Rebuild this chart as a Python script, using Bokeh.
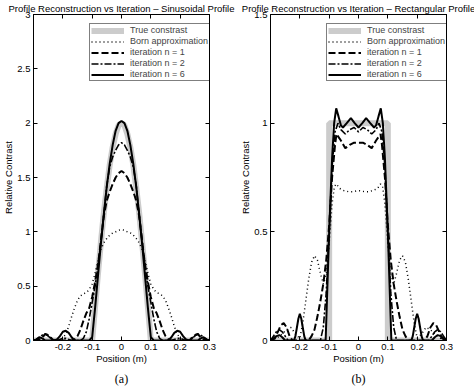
from bokeh.plotting import figure
from bokeh.models import (Range1d, FixedTicker, LinearAxis, Legend, LegendItem,
                          CustomJSTickFormatter, Title)
from bokeh.layouts import row
from bokeh.embed import file_html
from bokeh.resources import INLINE

SANS = "Liberation Sans"
SERIF = "Liberation Serif"

# ---------------- data ----------------
legend_labels = ["True constrast", "Born approximation", "iteration n = 1",
                 "iteration n = 2", "iteration n = 6"]

xticks = [-0.2, -0.1, 0, 0.1, 0.2, 0.3]
xtick_labels = ["-0.2", "-0.1", "0", "0.1", "0.2", "0.3"]
sin_yticks = [0, 0.5, 1, 1.5, 2, 2.5, 3]
sin_ytick_labels = ["0", "0.5", "1", "1.5", "2", "2.5", "3"]
rect_yticks = [0, 0.5, 1, 1.5]
rect_ytick_labels = ["0", "0.5", "1", "1.5"]

# (a) sinusoidal profile
sin_true_x = [-0.3, -0.1, -0.09, -0.08, -0.07, -0.06, -0.05, -0.04, -0.03, -0.02, -0.01, 0.0,
              0.01, 0.02, 0.03, 0.04, 0.05, 0.06, 0.07, 0.08, 0.09, 0.1, 0.3]
sin_true = [0, 0, 0.31, 0.62, 0.91, 1.18, 1.41, 1.62, 1.78, 1.9, 1.98, 2.0,
            1.98, 1.9, 1.78, 1.62, 1.41, 1.18, 0.91, 0.62, 0.31, 0, 0]

sin_x = [-0.30, -0.29, -0.28, -0.27, -0.26, -0.25, -0.24, -0.23, -0.22, -0.21,
         -0.20, -0.19, -0.18, -0.17, -0.16, -0.15, -0.14, -0.13, -0.12, -0.11,
         -0.10, -0.09, -0.08, -0.07, -0.06, -0.05, -0.04, -0.03, -0.02, -0.01,
         0.00,
         0.01, 0.02, 0.03, 0.04, 0.05, 0.06, 0.07, 0.08, 0.09, 0.10,
         0.11, 0.12, 0.13, 0.14, 0.15, 0.16, 0.17, 0.18, 0.19, 0.20,
         0.21, 0.22, 0.23, 0.24, 0.25, 0.26, 0.27, 0.28, 0.29, 0.30]
sin_born = [0.0, 0.0, 0.01, 0.03, 0.05, 0.05, 0.03, 0.01, 0.0, 0.0,
            0.02, 0.06, 0.13, 0.22, 0.3, 0.37, 0.41, 0.43, 0.44, 0.47,
            0.52, 0.62, 0.74, 0.84, 0.9, 0.94, 0.97, 0.99, 1.0, 1.015,
            1.02,
            1.015, 1.0, 0.99, 0.97, 0.94, 0.9, 0.84, 0.74, 0.62, 0.52,
            0.47, 0.44, 0.43, 0.41, 0.37, 0.3, 0.22, 0.13, 0.06, 0.02,
            0.0, 0.0, 0.01, 0.03, 0.05, 0.05, 0.03, 0.01, 0.0, 0.0]
sin_n1 = [0.0, 0.0, 0.01, 0.03, 0.06, 0.05, 0.02, 0.0, 0.0, 0.0,
          0.0, 0.0, 0.0, 0.0, 0.01, 0.04, 0.1, 0.18, 0.25, 0.3,
          0.4, 0.54, 0.7, 0.92, 1.15, 1.29, 1.37, 1.44, 1.5, 1.54,
          1.56,
          1.54, 1.5, 1.44, 1.37, 1.29, 1.15, 0.92, 0.7, 0.54, 0.4,
          0.3, 0.25, 0.18, 0.1, 0.04, 0.01, 0.0, 0.0, 0.0, 0.0,
          0.0, 0.0, 0.0, 0.02, 0.05, 0.06, 0.03, 0.01, 0.0, 0.0]
sin_n2 = [0.0, 0.01, 0.03, 0.05, 0.06, 0.04, 0.02, 0.0, 0.0, 0.01,
          0.02, 0.02, 0.01, 0.0, 0.0, 0.0, 0.0, 0.02, 0.08, 0.2,
          0.35, 0.5, 0.68, 0.92, 1.17, 1.43, 1.6, 1.69, 1.75, 1.8,
          1.82,
          1.8, 1.75, 1.69, 1.6, 1.43, 1.17, 0.92, 0.68, 0.5, 0.35,
          0.2, 0.08, 0.02, 0.0, 0.0, 0.0, 0.0, 0.01, 0.02, 0.02,
          0.01, 0.0, 0.0, 0.02, 0.04, 0.06, 0.05, 0.03, 0.01, 0.0]
sin_n6 = [0.0, 0.01, 0.03, 0.02, 0.0, 0.0, 0.0, 0.0, 0.01, 0.04,
          0.08, 0.09, 0.07, 0.03, 0.0, 0.0, 0.0, 0.0, 0.0, 0.0,
          0.03, 0.3, 0.6, 0.9, 1.17, 1.42, 1.63, 1.8, 1.93, 2.0,
          2.02,
          2.0, 1.93, 1.8, 1.63, 1.42, 1.17, 0.9, 0.6, 0.3, 0.03,
          0.0, 0.0, 0.0, 0.0, 0.0, 0.0, 0.03, 0.07, 0.09, 0.08,
          0.04, 0.01, 0.0, 0.0, 0.0, 0.0, 0.02, 0.03, 0.01, 0.0]

# (b) rectangular profile
rect_true_x = [-0.3, -0.1, -0.1, 0.1, 0.1, 0.3]
rect_true = [0, 0, 1, 1, 0, 0]

rect_born_x = [-0.3, -0.28, -0.26, -0.245, -0.23, -0.215, -0.2,
               -0.19, -0.18, -0.17, -0.16, -0.15, -0.14, -0.13, -0.12, -0.11, -0.1,
               -0.09, -0.082, -0.075, -0.065, -0.05, -0.035, -0.02,
               0.0,
               0.02, 0.035, 0.05, 0.065, 0.075, 0.082, 0.09,
               0.1, 0.11, 0.12, 0.13, 0.14, 0.15, 0.16, 0.17, 0.18, 0.19,
               0.2, 0.215, 0.23, 0.245, 0.26, 0.28, 0.3]
rect_born = [0.0, 0.01, 0.03, 0.05, 0.06, 0.03, 0.01,
             0.08, 0.18, 0.28, 0.36, 0.39, 0.37, 0.31, 0.26, 0.3, 0.45,
             0.63, 0.71, 0.72, 0.7, 0.69, 0.685, 0.685,
             0.69,
             0.685, 0.685, 0.69, 0.7, 0.72, 0.71, 0.63,
             0.45, 0.3, 0.26, 0.31, 0.37, 0.39, 0.36, 0.28, 0.18, 0.08,
             0.01, 0.03, 0.06, 0.05, 0.03, 0.01, 0.0]

rect_n1_x = [-0.3, -0.285, -0.275, -0.265, -0.255, -0.245, -0.235, -0.225,
             -0.17, -0.16, -0.15, -0.14, -0.13, -0.12, -0.11, -0.1, -0.09, -0.08,
             -0.075, -0.06, -0.045, -0.03, -0.015,
             0.0,
             0.015, 0.03, 0.045, 0.06, 0.075,
             0.08, 0.09, 0.1, 0.11, 0.12, 0.13, 0.14, 0.15, 0.16, 0.17,
             0.225, 0.235, 0.245, 0.255, 0.265, 0.275, 0.285, 0.3]
rect_n1 = [0.0, 0.01, 0.04, 0.07, 0.08, 0.06, 0.02, 0.0,
           0.0, 0.02, 0.05, 0.11, 0.18, 0.26, 0.37, 0.53, 0.75, 0.9,
           0.95, 0.92, 0.885, 0.9, 0.91,
           0.91,
           0.91, 0.9, 0.885, 0.92, 0.95,
           0.9, 0.75, 0.53, 0.37, 0.26, 0.18, 0.11, 0.05, 0.02, 0.0,
           0.0, 0.02, 0.06, 0.08, 0.07, 0.04, 0.01, 0.0]

rect_n2_x = [-0.3, -0.29, -0.28, -0.27, -0.26, -0.25, -0.24,
             -0.13, -0.12, -0.11, -0.1, -0.09, -0.08, -0.07, -0.06, -0.045, -0.03, -0.015,
             0.0,
             0.015, 0.03, 0.045, 0.06, 0.07, 0.08, 0.09, 0.1, 0.11, 0.12, 0.13,
             0.24, 0.25, 0.26, 0.27, 0.28, 0.29, 0.3]
rect_n2 = [0.0, 0.02, 0.04, 0.05, 0.04, 0.02, 0.0,
           0.0, 0.06, 0.22, 0.5, 0.8, 0.96, 1.0, 0.97, 0.95, 0.97, 0.98,
           0.96,
           0.98, 0.97, 0.95, 0.97, 1.0, 0.96, 0.8, 0.5, 0.22, 0.06, 0.0,
           0.0, 0.02, 0.04, 0.05, 0.04, 0.02, 0.0]

rect_n6_x = [-0.3, -0.29, -0.28, -0.27, -0.26, -0.25,
             -0.22, -0.215, -0.21, -0.205, -0.2, -0.195, -0.19, -0.185, -0.18,
             -0.112, -0.1, -0.09, -0.083, -0.076, -0.068, -0.06, -0.053, -0.04, -0.026, -0.013,
             0.0,
             0.013, 0.026, 0.04, 0.053, 0.06, 0.068, 0.076, 0.083, 0.09, 0.1, 0.112,
             0.18, 0.185, 0.19, 0.195, 0.2, 0.205, 0.21, 0.215, 0.22,
             0.25, 0.26, 0.27, 0.28, 0.29, 0.3]
rect_n6 = [0.0, 0.01, 0.02, 0.025, 0.015, 0.0,
           0.0, 0.02, 0.06, 0.1, 0.123, 0.1, 0.06, 0.02, 0.0,
           0.0, 0.5, 0.84, 1.0, 1.068, 1.03, 0.99, 0.98, 1.0, 1.023, 1.0,
           0.98,
           1.0, 1.023, 1.0, 0.98, 0.99, 1.03, 1.068, 1.0, 0.84, 0.5, 0.0,
           0.0, 0.02, 0.06, 0.1, 0.123, 0.1, 0.06, 0.02, 0.0,
           0.0, 0.015, 0.025, 0.02, 0.01, 0.0]

# ---------------- styles ----------------
STYLES = [
    dict(line_color="#cccccc", line_width=6),
    dict(line_color="black", line_width=1.5, line_dash="1 3"),
    dict(line_color="black", line_width=2, line_dash="7 3"),
    dict(line_color="black", line_width=1.6, line_dash="7 2 2 2"),
    dict(line_color="black", line_width=2),
]

FIG_W = 237
FIG_H = 388
TOP = 14
BOTTOM = 46
LEFT = 29
RIGHT = 28


def make_panel(ymax, yticks, ylabels, title, caption, series):
    p = figure(width=FIG_W, height=FIG_H, output_backend="svg", toolbar_location=None,
               x_range=Range1d(-0.3, 0.3), y_range=Range1d(0, ymax),
               min_border_left=LEFT, min_border_right=RIGHT,
               min_border_top=TOP, min_border_bottom=BOTTOM,
               background_fill_color="white", border_fill_color="white",
               title=title)
    p.title.align = "center"
    p.title.text_font = SANS
    p.title.text_font_size = "9.5px"
    p.title.text_font_style = "normal"
    p.title.text_color = "black"
    p.title.standoff = 1
    p.xgrid.visible = False
    p.ygrid.visible = False
    p.outline_line_color = "black"
    p.outline_line_width = 1

    for ax, ticks, labels in ((p.xaxis[0], xticks, xtick_labels),
                              (p.yaxis[0], yticks, ylabels)):
        ax.ticker = FixedTicker(ticks=ticks)
        ax.major_label_overrides = dict(zip(ticks, labels))
        ax.major_tick_in = 4
        ax.major_tick_out = 0
        ax.minor_tick_in = 0
        ax.minor_tick_out = 0
        ax.axis_line_color = "black"
        ax.major_tick_line_color = "black"
        ax.major_label_text_font = SANS
        ax.major_label_text_font_size = "9.5px"
        ax.major_label_text_color = "black"
        ax.major_label_standoff = 3
        ax.axis_label_text_font = SANS
        ax.axis_label_text_font_size = "9.5px"
        ax.axis_label_text_font_style = "normal"
        ax.axis_label_text_color = "black"
        ax.axis_label_standoff = 0
    p.xaxis[0].axis_label = "Position (m)"
    p.yaxis[0].axis_label = "Relative Contrast"

    for loc, ticks in (("above", xticks), ("right", yticks)):
        ax = LinearAxis(ticker=FixedTicker(ticks=ticks),
                        formatter=CustomJSTickFormatter(code="return ''"),
                        major_tick_in=4, major_tick_out=0,
                        minor_tick_in=0, minor_tick_out=0,
                        major_label_text_font_size="0px", major_label_standoff=0,
                        axis_line_color="black", major_tick_line_color="black")
        p.add_layout(ax, loc)

    p.add_layout(Title(text=caption, align="center", text_font=SERIF,
                       text_font_size="12px", text_font_style="normal",
                       text_color="black", standoff=6), "below")

    renderers = []
    for (xs, ys), st in zip(series, STYLES):
        renderers.append(p.line(xs, ys, **st))

    legend = Legend(items=[LegendItem(label=lab, renderers=[r])
                           for lab, r in zip(legend_labels, renderers)],
                    location=(56, 259),
                    label_text_font=SANS, label_text_font_size="9px",
                    label_height=9, glyph_height=9, glyph_width=33,
                    label_standoff=6, spacing=1, padding=1, margin=0,
                    border_line_color="black", border_line_width=1,
                    background_fill_color="white", background_fill_alpha=1)
    p.add_layout(legend)
    return p


pa = make_panel(3, sin_yticks, sin_ytick_labels,
                "Profile Reconstruction vs Iteration \u2013 Sinusoidal Profile", "(a)",
                [(sin_true_x, sin_true), (sin_x, sin_born), (sin_x, sin_n1),
                 (sin_x, sin_n2), (sin_x, sin_n6)])
pb = make_panel(1.5, rect_yticks, rect_ytick_labels,
                "Profile Reconstruction vs Iteration \u2013 Rectangular Profile", "(b)",
                [(rect_true_x, rect_true), (rect_born_x, rect_born), (rect_n1_x, rect_n1),
                 (rect_n2_x, rect_n2), (rect_n6_x, rect_n6)])

layout = row(pa, pb, spacing=0)
open("out.html", "w").write(file_html(layout, INLINE))
